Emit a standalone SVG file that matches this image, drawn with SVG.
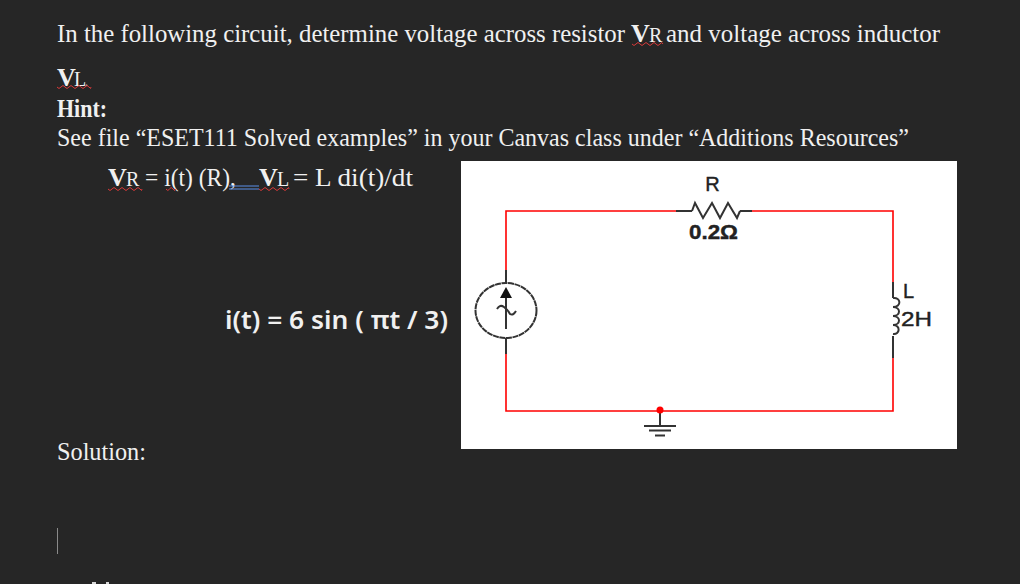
<svg xmlns="http://www.w3.org/2000/svg" width="1020" height="584" viewBox="0 0 1020 584">
<style>
.t{font-family:"Liberation Serif","DejaVu Serif",serif;font-size:25px;fill:#f0f0f0}
.b{font-weight:bold}
.s{font-family:"Liberation Sans",Arial,sans-serif;fill:#222;font-size:20px;stroke:#222;stroke-width:.4}
.w{fill:none;stroke:#f00;stroke-width:1.6}
.k{fill:none;stroke:#333;stroke-width:2}
.sq{fill:none;stroke:#d93a3a;stroke-width:1}
</style>
<rect width="1020" height="584" fill="#262626"/>
<g id="text">
<text class="t" x="57" y="42" textLength="568" lengthAdjust="spacingAndGlyphs">In the following circuit, determine voltage across resistor</text>
<text class="t b" x="631" y="42" style="font-size:26px">V</text><text class="t" x="649" y="42" style="font-size:20px">R</text>
<text class="t" x="666" y="42" textLength="274" lengthAdjust="spacingAndGlyphs">and voltage across inductor</text>
<text class="t b" x="57" y="86" style="font-size:26px">V</text><text class="t" x="74" y="86" style="font-size:20px">L</text><text class="t" x="85" y="86" style="font-size:12px">.</text>
<text class="t b" x="57" y="117" textLength="50" lengthAdjust="spacingAndGlyphs">Hint:</text>
<text class="t" x="57" y="146" textLength="852" lengthAdjust="spacingAndGlyphs">See file “ESET111 Solved examples” in your Canvas class under “Additions Resources”</text>
<text class="t b" x="108" y="186" style="font-size:26px">V</text><text class="t" x="126" y="186" style="font-size:20px">R</text>
<text class="t" x="145" y="186" textLength="91" lengthAdjust="spacingAndGlyphs">= i(t) (R),</text>
<text class="t b" x="259" y="186" style="font-size:26px">V</text><text class="t" x="277" y="186" style="font-size:20px">L</text>
<text class="t" x="293" y="186" textLength="120" lengthAdjust="spacingAndGlyphs">= L di(t)/dt</text>
<text class="t" x="57" y="460" textLength="89" lengthAdjust="spacingAndGlyphs">Solution:</text>
</g>
<g id="proofing-marks">
<path class="sq" d="M632 44q2 3 4 0t4 0 4 0 4 0 4 0 4 0 4 0 3 0"/>
<path class="sq" d="M57 87q2 3 4 0t4 0 4 0 4 0 4 0 4 0 4 0 4 0 2 0"/>
<path class="sq" d="M108 189q2 3 4 0t4 0 4 0 4 0 4 0 4 0 4 0 4 0 2 0"/>
<path class="sq" d="M166 189q2 3 3.500 0t3.500 0 3 0"/>
<path class="sq" d="M259 189q2 3 4 0t4 0 4 0 4 0 4 0 4 0 4 0 2 0"/>
<path d="M229 186H259M229 189H259" fill="none" stroke="#5b8fe8" stroke-width="1"/>
<path d="M57.500 528V554" stroke="#8a8a8a" stroke-width="1"/>
<path d="M92 582h4v2h-4zM106 582h3v2h-3z" fill="#d8d8d8"/>
</g>
<rect id="circuit-panel" x="461" y="161" width="496" height="288" fill="#fff"/>
<g id="connectors">
<path class="w" d="M506 270V211H676M752 211H893V282"/>
<path class="w" d="M893 358V411H506V354"/>
<path class="k" d="M506 270V283M506 338V354M676 211H692M740 211H752M893 282V298M893 336V358M660 412V426"/>
</g>
<g id="source">
<ellipse class="k" cx="506" cy="310.500" rx="30.500" ry="27.500" stroke-dasharray="6 .6"/>
<path class="k" d="M506 329V295M497 309q3 -5 7 -2t6 7q3 2 6 -3"/>
<path d="M506 287L500 298H512Z" fill="#111"/>
</g>
<text id="source-label" x="225" y="329" font-family="Noto Sans,Liberation Sans,sans-serif" font-weight="600" font-size="25" fill="#f0f0f0" textLength="223" lengthAdjust="spacingAndGlyphs">i(t) = 6 sin ( πt / 3)</text>
<g id="resistor">
<path class="k" d="M692 211L695 203L703 218L712 203L720 218L728 203L737 218L740 211"/>
<text class="s" x="712.500" y="191" text-anchor="middle">R</text>
<text class="s b" x="713.500" y="239" text-anchor="middle" textLength="49" lengthAdjust="spacingAndGlyphs">0.2Ω</text>
</g>
<g id="inductor">
<path class="k" d="M893 298c8 -1 9 9 0 9M893 307c8 0 8 9 0 9M893 316c8 0 8 9 0 9M893 325c8 0 7 10 0 9"/>
<text class="s" x="903" y="298">L</text>
<text class="s" x="901" y="326" textLength="31" lengthAdjust="spacingAndGlyphs">2H</text>
</g>
<g id="ground">
<circle cx="660" cy="410" r="3.500" fill="#f00"/>
<path class="k" d="M644 426H676M649 430.500H671M655 435.500H665"/>
</g>
</svg>
